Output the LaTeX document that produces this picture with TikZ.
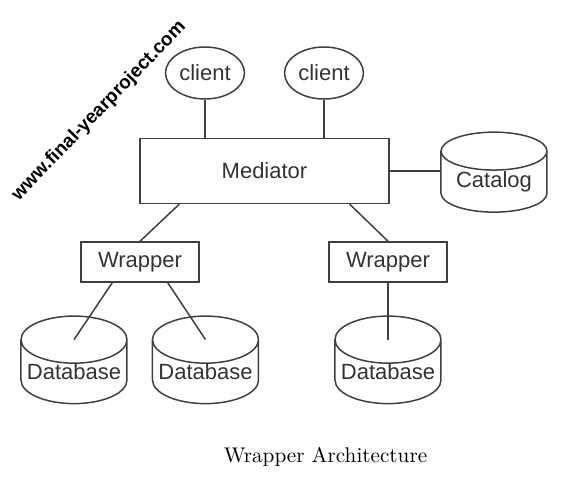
\documentclass[tikz,border=0pt]{standalone}
\usepackage{fontspec}
\usepackage{tikz}
\usetikzlibrary{shapes.geometric,positioning,calc}
\newfontfamily\diagfont{Liberation Sans}

\tikzset{
  box/.style={draw=black!75, line width=0.75pt, text=black!80, inner sep=0pt,
    font=\diagfont\fontsize{11}{13}\selectfont},
  client/.style={box, ellipse, minimum width=39.5pt, minimum height=26pt},
  block/.style={box, rectangle},
  store/.style={box, cylinder, shape border rotate=90, aspect=0.5,
    minimum width=53pt, minimum height=40pt},
  link/.style={draw=black!75, line width=0.75pt}
}

\begin{document}
\begin{tikzpicture}[x=0.5pt,y=-0.5pt]
\useasboundingbox (0,0) rectangle (570,481);
\node[client] (c1) at (205,73) {client};
\node[client] (c2) at (324,73) {client};
\node[block, minimum width=124.5pt, minimum height=32.5pt] (med) at (264.5,171) {Mediator};
\node[store] (cat) at (494,182) {Catalog};
\node[block, minimum width=59pt, minimum height=20pt] (w1) at (140,262) {Wrapper};
\node[block, minimum width=59pt, minimum height=20pt] (w2) at (388,262) {Wrapper};
\node[store] (db1) at (74,372) {Database};
\node[store] (db2) at (205.5,372) {Database};
\node[store] (db3) at (388,372) {Database};
\draw[link] (c1.south) -- (c1.south |- med.north);
\draw[link] (c2.south) -- (c2.south |- med.north);
\draw[link] (med.east) -- (med.east -| cat.west);
\draw[link] ([xshift=20pt]med.south west) -- (w1.north);
\draw[link] ([xshift=-20pt]med.south east) -- (w2.north);
\draw[link] ([xshift=16pt]w1.south west) -- ($(db1.before top)!.5!(db1.after top)$);
\draw[link] ([xshift=-16pt]w1.south east) -- ($(db2.before top)!.5!(db2.after top)$);
\draw[link] (w2.south) -- ($(db3.before top)!.5!(db3.after top)$);
\node[black, rotate=46, font=\diagfont\bfseries\fontsize{9.5}{11}\selectfont] (wm) at (99,111) {www.final-yearproject.com};
\node[anchor=base, font=\fontsize{10.6}{13}\selectfont] (cap) at (325.5,463) {Wrapper Architecture};
\end{tikzpicture}
\end{document}
